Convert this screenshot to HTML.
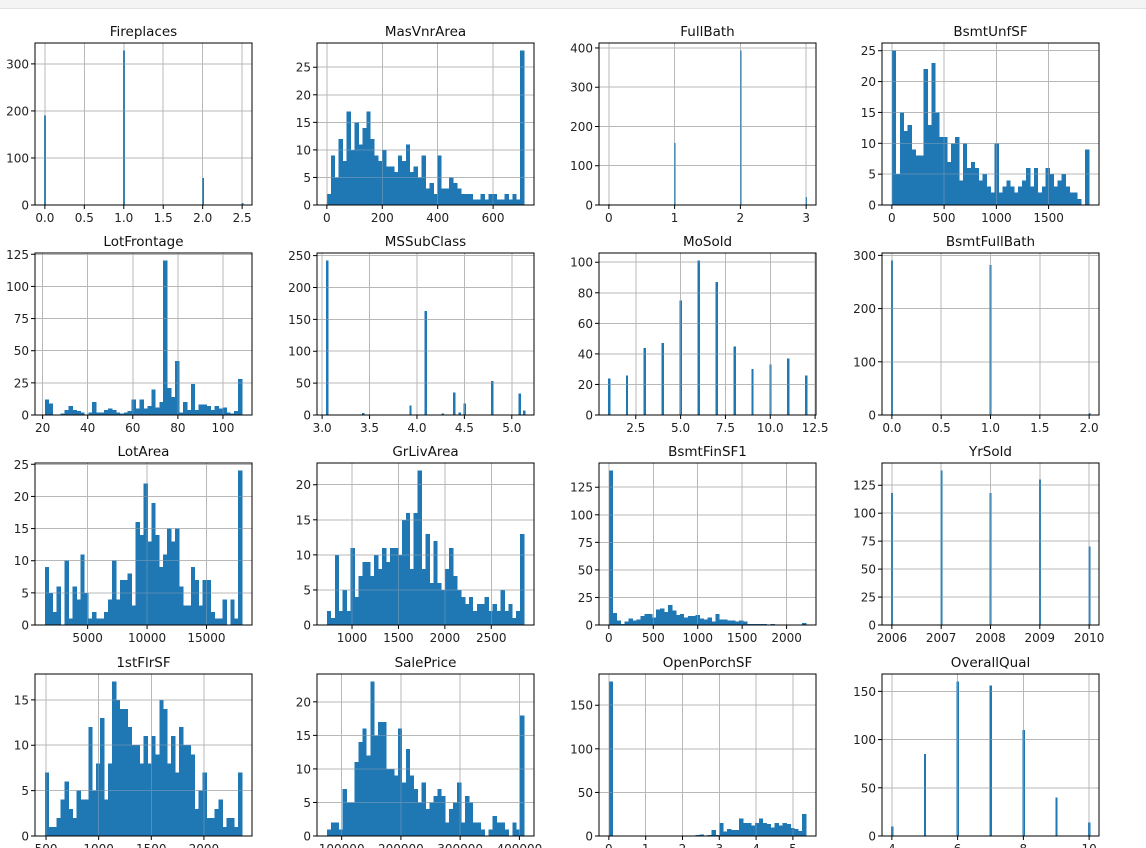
<!DOCTYPE html>
<html><head><meta charset="utf-8"><style>
html,body{margin:0;padding:0;background:#fff;}
svg{display:block;font-family:"DejaVu Sans","Liberation Sans",sans-serif;}
</style></head><body>
<svg id="fig" width="1146" height="848" viewBox="0 0 1146 848" xmlns="http://www.w3.org/2000/svg">
<rect x="0" y="0" width="1146" height="8" fill="#f4f4f4"/>
<line x1="0" y1="8.5" x2="1146" y2="8.5" stroke="#e2e2e2"/>
</svg>
<script>
// ---- data: discrete histograms (values + counts) ----
const fireplacesValues=[0,1,2,2.5];
const fireplacesCounts=[190,328,57,4];
const fullBathValues=[0,1,2,3];
const fullBathCounts=[2,158,393,20];
const msSubClassValues=[3.05,3.43,3.93,4.09,4.27,4.39,4.45,4.50,4.79,5.08,5.13];
const msSubClassCounts=[242,3,15,163,2,35,4,18,53,34,7];
const moSoldValues=[1,2,3,4,5,6,7,8,9,10,11,12];
const moSoldCounts=[24,26,44,47,75,101,87,45,30,33,37,26];
const bsmtFullBathValues=[0,1,2];
const bsmtFullBathCounts=[290,282,4];
const yrSoldValues=[2006,2007,2008,2009,2010];
const yrSoldCounts=[118,138,118,130,70];
const overallQualValues=[4,5,6,7,8,9,10];
const overallQualCounts=[10,85,160,156,110,40,14];
// ---- data: continuous histograms (bin counts over [lo,hi]) ----
const masVnrAreaRange=[0,712];
const masVnrAreaCounts=[2,9,5,12,8,17,10,15,11,14,17,12,9,8,10,7,7,6,9,8,11,6,7,5,9,3,4,2,9,3,3,5,4,3,2,2,2,1,1,2,1,2,2,1,1,2,1,2,1,28];
const bsmtUnfSFRange=[0,1888];
const bsmtUnfSFCounts=[25,5,15,12,13,9,8,8,22,13,23,15,11,11,7,10,11,4,10,6,7,6,4,5,3,2,10,2,3,4,3,2,3,4,6,3,6,2,3,6,5,3,4,5,3,2,2,1,0,9];
const lotFrontageRange=[21,108.5];
const lotFrontageCounts=[12,9,0,0,1,4,7,4,3,2,0,2,10,2,2,4,5,4,2,1,2,3,12,5,12,5,7,20,6,10,120,21,14,42,2,10,4,24,4,8,8,7,4,7,5,6,2,1,3,28];
const lotAreaRange=[1400,18000];
const lotAreaCounts=[9,5,2,6,0,10,1,6,4,11,5,1,2,1,1,2,4,10,4,7,7,8,3,16,14,22,13,19,14,9,11,15,13,15,6,3,3,9,7,3,7,7,2,1,1,4,0,4,1,24];
const grLivAreaRange=[729,2854];
const grLivAreaCounts=[2,1,10,2,5,2,11,4,7,9,9,7,10,8,11,9,11,11,10,15,16,8,16,22,8,13,6,12,6,5,8,11,7,5,4,3,4,2,3,3,4,2,3,2,5,2,3,1,2,13];
const bsmtFinSF1Range=[0,2220];
const bsmtFinSF1Counts=[140,11,4,1,3,6,4,5,8,10,10,7,14,15,12,18,13,9,10,7,8,8,9,6,5,7,3,10,5,5,4,4,3,4,3,1,1,1,1,1,0,1,0,0,0,0,0,0,0,2];
const firstFlrSFRange=[489,2363];
const firstFlrSFCounts=[7,1,1,2,4,6,3,2,5,4,4,12,5,8,13,4,8,17,15,14,14,12,10,10,8,11,8,11,9,15,14,8,11,7,12,10,10,9,3,5,7,2,2,3,4,1,2,2,1,7];
const salePriceRange=[75000,408000];
const salePriceCounts=[1,2,2,1,7,5,5,11,14,16,12,23,15,17,17,10,10,9,16,8,13,9,7,5,8,4,5,6,7,6,2,4,5,8,2,6,5,2,2,1,0,1,3,2,2,1,0,2,1,18];
const openPorchSFRange=[0,5.36];
const openPorchSFCounts=[177,0,0,0,0,0,0,0,0,0,0,0,0,0,0,0,0,0,0,0,0,0,1,2,0,1,7,1,15,5,8,7,7,20,15,15,12,15,20,15,14,10,15,12,15,14,9,8,6,25];
// ---- tick labels ----
const fireplacesXTicks=[0,0.5,1,1.5,2,2.5], fireplacesYTicks=[0,100,200,300];
const masVnrAreaXTicks=[0,200,400,600], masVnrAreaYTicks=[0,5,10,15,20,25];
const fullBathXTicks=[0,1,2,3], fullBathYTicks=[0,100,200,300,400];
const bsmtUnfSFXTicks=[0,500,1000,1500], bsmtUnfSFYTicks=[0,5,10,15,20,25];
const lotFrontageXTicks=[20,40,60,80,100], lotFrontageYTicks=[0,25,50,75,100,125];
const msSubClassXTicks=[3,3.5,4,4.5,5], msSubClassYTicks=[0,50,100,150,200,250];
const moSoldXTicks=[2.5,5,7.5,10,12.5], moSoldYTicks=[0,20,40,60,80,100];
const bsmtFullBathXTicks=[0,0.5,1,1.5,2], bsmtFullBathYTicks=[0,100,200,300];
const lotAreaXTicks=[5000,10000,15000], lotAreaYTicks=[0,5,10,15,20,25];
const grLivAreaXTicks=[1000,1500,2000,2500], grLivAreaYTicks=[0,5,10,15,20];
const bsmtFinSF1XTicks=[0,500,1000,1500,2000], bsmtFinSF1YTicks=[0,25,50,75,100,125];
const yrSoldXTicks=[2006,2007,2008,2009,2010], yrSoldYTicks=[0,25,50,75,100,125];
const firstFlrSFXTicks=[500,1000,1500,2000], firstFlrSFYTicks=[0,5,10,15];
const salePriceXTicks=[100000,200000,300000,400000], salePriceYTicks=[0,5,10,15,20];
const openPorchSFXTicks=[0,1,2,3,4,5], openPorchSFYTicks=[0,50,100,150];
const overallQualXTicks=[4,6,8,10], overallQualYTicks=[0,50,100,150];

const NS="http://www.w3.org/2000/svg";
const svg=document.getElementById('fig');
const colX=[35,317,599,882], rowY=[43,253,463,674], W=217, H=162;
function mk(tag,attrs,parent){const e=document.createElementNS(NS,tag);for(const k in attrs)e.setAttribute(k,attrs[k]);(parent||svg).appendChild(e);return e;}
function fmt(v,dec){return dec>0?v.toFixed(dec):String(v);}

function plot(idx,key,title,lo,hi,barsLo,barsHi,counts,xt,yt,xdec){
  const col=idx%4,row=Math.floor(idx/4);
  const L=colX[col],T=rowY[row];
  const r=hi-lo, x0=lo-0.05*r, x1=hi+0.05*r;
  const ymax=Math.max(...counts)*1.05;
  const sx=v=>L+(v-x0)/(x1-x0)*W;
  const sy=v=>T+H-v/ymax*H;
  const g=mk('g',{});
  
  
  // grid
  const gg=mk('g',{'shape-rendering':'crispEdges'},g);
  xt.forEach(v=>{mk('line',{x1:sx(v),x2:sx(v),y1:T,y2:T+H,stroke:'#b8b8b8','stroke-width':1},gg);});
  yt.forEach(v=>{mk('line',{x1:L,x2:L+W,y1:sy(v),y2:sy(v),stroke:'#b8b8b8','stroke-width':1},gg);});
  // bars
  const bg=mk('g',{'shape-rendering':'crispEdges'},g);
  for(let i=0;i<counts.length;i++){
    if(counts[i]<=0)continue;
    const a=sx(barsLo[i]),b=sx(barsHi[i]);
    const rc=mk('rect',{x:a,y:sy(counts[i]),width:Math.max(b-a+0.4,1.2),height:sy(0)-sy(counts[i]),fill:'#1f77b4'},bg);
    
    
  }
  // faint grid over bars
  const g2=mk('g',{'shape-rendering':'crispEdges',opacity:0.35},g);
  xt.forEach(v=>{mk('line',{x1:sx(v),x2:sx(v),y1:T,y2:T+H,stroke:'#b8b8b8'},g2);});
  yt.forEach(v=>{mk('line',{x1:L,x2:L+W,y1:sy(v),y2:sy(v),stroke:'#b8b8b8'},g2);});
  // frame
  mk('rect',{x:L,y:T,width:W,height:H,fill:'none',stroke:'#000','stroke-width':1},g);
  // ticks
  const xa=mk('g',{},g);
  
  
  xt.forEach(v=>{const x=sx(v);mk('line',{x1:x,x2:x,y1:T+H,y2:T+H+4,stroke:'#000'},xa);
    const t=mk('text',{x:x,y:T+H+17,'text-anchor':'middle','font-size':12,fill:'#222'},xa);t.textContent=fmt(v,xdec);});
  const ya=mk('g',{},g);
  
  
  yt.forEach(v=>{const y=sy(v);mk('line',{x1:L-4,x2:L,y1:y,y2:y,stroke:'#000'},ya);
    const t=mk('text',{x:L-6,y:y+4.5,'text-anchor':'end','font-size':12,fill:'#222'},ya);t.textContent=String(v);});
  const tt=mk('text',{x:L+W/2,y:T-7,'text-anchor':'middle','font-size':13.5,fill:'#111'},g);
  
  
  tt.textContent=title;
}
function discrete(idx,key,title,vals,counts,xt,yt,xdec,bwMul){
  const lo=Math.min(...vals),hi=Math.max(...vals),bw=(hi-lo)/100*(bwMul||1);
  plot(idx,key,title,lo,hi,vals.map(v=>v-bw/2),vals.map(v=>v+bw/2),counts,xt,yt,xdec);
}
function continuous(idx,key,title,range,counts,xt,yt,xdec){
  const [lo,hi]=range,n=counts.length,bw=(hi-lo)/n;
  plot(idx,key,title,lo,hi,counts.map((c,i)=>lo+i*bw),counts.map((c,i)=>lo+(i+1)*bw),counts,xt,yt,xdec);
}
discrete(0,'fireplaces','Fireplaces',fireplacesValues,fireplacesCounts,fireplacesXTicks,fireplacesYTicks,1,0.8);
continuous(1,'masvnrarea','MasVnrArea',masVnrAreaRange,masVnrAreaCounts,masVnrAreaXTicks,masVnrAreaYTicks,0);
discrete(2,'fullbath','FullBath',fullBathValues,fullBathCounts,fullBathXTicks,fullBathYTicks,0,0.6);
continuous(3,'bsmtunfsf','BsmtUnfSF',bsmtUnfSFRange,bsmtUnfSFCounts,bsmtUnfSFXTicks,bsmtUnfSFYTicks,0);
continuous(4,'lotfrontage','LotFrontage',lotFrontageRange,lotFrontageCounts,lotFrontageXTicks,lotFrontageYTicks,0);
discrete(5,'mssubclass','MSSubClass',msSubClassValues,msSubClassCounts,msSubClassXTicks,msSubClassYTicks,1,1);
discrete(6,'mosold','MoSold',moSoldValues,moSoldCounts,moSoldXTicks,moSoldYTicks,1,1);
discrete(7,'bsmtfullbath','BsmtFullBath',bsmtFullBathValues,bsmtFullBathCounts,bsmtFullBathXTicks,bsmtFullBathYTicks,1,0.8);
continuous(8,'lotarea','LotArea',lotAreaRange,lotAreaCounts,lotAreaXTicks,lotAreaYTicks,0);
continuous(9,'grlivarea','GrLivArea',grLivAreaRange,grLivAreaCounts,grLivAreaXTicks,grLivAreaYTicks,0);
continuous(10,'bsmtfinsf1','BsmtFinSF1',bsmtFinSF1Range,bsmtFinSF1Counts,bsmtFinSF1XTicks,bsmtFinSF1YTicks,0);
discrete(11,'yrsold','YrSold',yrSoldValues,yrSoldCounts,yrSoldXTicks,yrSoldYTicks,0,0.8);
continuous(12,'firstflrsf','1stFlrSF',firstFlrSFRange,firstFlrSFCounts,firstFlrSFXTicks,firstFlrSFYTicks,0);
continuous(13,'saleprice','SalePrice',salePriceRange,salePriceCounts,salePriceXTicks,salePriceYTicks,0);
continuous(14,'openporchsf','OpenPorchSF',openPorchSFRange,openPorchSFCounts,openPorchSFXTicks,openPorchSFYTicks,0);
discrete(15,'overallqual','OverallQual',overallQualValues,overallQualCounts,overallQualXTicks,overallQualYTicks,0,1);
</script>
</body></html>
